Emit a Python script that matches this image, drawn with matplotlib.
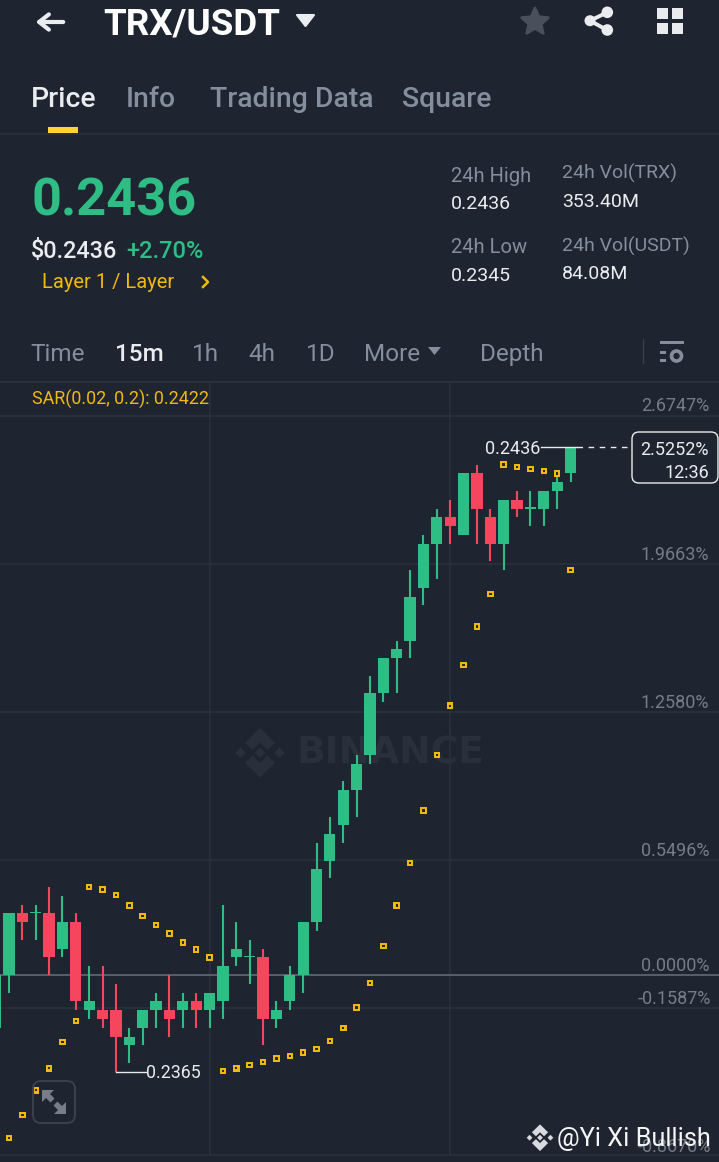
import numpy as np
import matplotlib
matplotlib.use("Agg")
import matplotlib.pyplot as plt
from matplotlib.patches import Rectangle, FancyBboxPatch, Polygon, Circle

W, H = 719, 1162
BG = "#1E2530"
GREEN = "#2EBD85"
RED = "#F6465D"
YEL = "#F0B90B"
GRID = "#2A313C"
GREY = "#848E9C"
DIM = "#767C88"
WHITE = "#EAECEF"
plt.rcParams["font.family"] = ["Roboto", "DejaVu Sans"]

# ---- data (prices) ----
candle_index = list(range(-1, 43))
opens = [0.2370,0.2376,0.2383,0.2383,0.2383,0.2379,0.2382,0.2372,0.2372,0.2372,0.2368,0.2370,0.2372,0.2372,0.2372,0.2373,0.2372,0.2373,0.2378,0.2378,0.2378,0.2371,0.2373,0.2376,0.2382,0.2389,0.2393,0.2397,0.2401,0.2408,0.2412,0.2414,0.2420,0.2425,0.2428,0.2426,0.2433,0.2428,0.2425,0.2430,0.2429,0.2429,0.2431,0.2433]
closes = [0.2376,0.2383,0.2382,0.2383,0.2378,0.2382,0.2373,0.2373,0.2371,0.2369,0.2369,0.2372,0.2373,0.2371,0.2373,0.2372,0.2374,0.2377,0.2379,0.2378,0.2371,0.2372,0.2376,0.2382,0.2388,0.2392,0.2397,0.2400,0.2408,0.2412,0.2413,0.2419,0.2425,0.2428,0.2427,0.2433,0.2429,0.2425,0.2430,0.2429,0.2429,0.2431,0.2432,0.2436]
highs = [0.2376,0.2383,0.2384,0.2384,0.2386,0.2385,0.2383,0.2377,0.2377,0.2375,0.2370,0.2372,0.2374,0.2376,0.2374,0.2374,0.2374,0.2384,0.2382,0.2380,0.2379,0.2373,0.2377,0.2382,0.2391,0.2394,0.2398,0.2401,0.2410,0.2412,0.2414,0.2422,0.2426,0.2429,0.2430,0.2433,0.2434,0.2429,0.2430,0.2431,0.2431,0.2431,0.2433,0.2436]
lows = [0.2370,0.2374,0.2380,0.2380,0.2376,0.2378,0.2372,0.2371,0.2370,0.2365,0.2366,0.2368,0.2370,0.2369,0.2370,0.2370,0.2370,0.2371,0.2377,0.2375,0.2368,0.2370,0.2372,0.2374,0.2381,0.2387,0.2391,0.2394,0.2400,0.2407,0.2408,0.2412,0.2418,0.2421,0.2425,0.2426,0.2425,0.2423,0.2422,0.2428,0.2427,0.2427,0.2429,0.2432]
sar_index = list(range(0, 43))
sar_values = [0.23575,0.23601,0.23629,0.23654,0.23684,0.23708,0.23860,0.23857,0.23851,0.23839,0.23827,0.23817,0.23807,0.23797,0.23789,0.23780,0.23651,0.23654,0.23658,0.23661,0.23665,0.23668,0.23672,0.23676,0.23685,0.23700,0.23723,0.23751,0.23793,0.23839,0.23887,0.23947,0.24010,0.24066,0.24112,0.24156,0.24193,0.24340,0.24337,0.24335,0.24333,0.24330,0.24220]
pct_labels = ["2.6747%", "1.9663%", "1.2580%", "0.5496%", "0.0000%", "-0.1587%", "-0.8670%"]
grid_prices = [0.24395, 0.24227, 0.24059, 0.23891, 0.23723, 0.23555]
tabs = ["Price", "Info", "Trading Data", "Square"]
intervals = ["Time", "15m", "1h", "4h", "1D", "More", "Depth"]
base_price = 0.2376

# ---- axes: scales chosen so price/index land on the reference pixels ----
PX0, DX = 9.0, 13.37
PY0, DY = 975.0, 88000.0
fig = plt.figure(figsize=(W / 100, H / 100), dpi=100, facecolor=BG)
back = fig.add_axes([0, 0, 1, 1], facecolor=BG, zorder=0)
back.set_xlim(0, W); back.set_ylim(H, 0); back.axis("off")
ax = fig.add_axes([0, 0, 1, 1], facecolor="none", zorder=1)
ax.set_xlim((0 - PX0) / DX, (W - PX0) / DX)
ax.set_ylim(base_price + (PY0 - H) / DY, base_price + PY0 / DY)
ax.axis("off")
ov = fig.add_axes([0, 0, 1, 1], facecolor="none", zorder=2)
ov.set_xlim(0, W); ov.set_ylim(H, 0); ov.axis("off")

def T(x, y, s, size, color, ha="left", weight="normal", va="center", **kw):
    return ov.text(x, y, s, fontsize=size, color=color, ha=ha, va=va, weight=weight, **kw)

def B(x, y, s, size, color, **kw):
    return T(x, y, s, size, color, va="baseline", **kw)

def binance_logo(axis, cx, cy, k, color, zorder=1):
    shapes = [
        [(0, -24.7), (15, -10), (7.5, -2.7), (0, -10), (-7.5, -2.7), (-15, -10)],
        [(0, 24.7), (15, 10), (7.5, 2.7), (0, 10), (-7.5, 2.7), (-15, 10)],
        [(0, -5.4), (5.3, 0), (0, 5.4), (-5.3, 0)],
        [(-19.3, -5.4), (-14, 0), (-19.3, 5.4), (-24.7, 0)],
        [(19.3, -5.4), (24.7, 0), (19.3, 5.4), (14, 0)],
    ]
    for s in shapes:
        axis.add_patch(Polygon([(cx + k * a, cy + k * b) for a, b in s], color=color, lw=0, zorder=zorder))

# grid
for p in grid_prices:
    ax.axhline(p, color=GRID, lw=1.2, zorder=1)
ax.axhline(base_price, color="#5A606B", lw=1.4, zorder=1.5)
for xv in [15, 33]:
    ax.plot([xv, xv], [base_price + (PY0 - 1155) / DY, base_price + (PY0 - 382) / DY], color=GRID, lw=1.2, zorder=1)
ov.plot([0, W], [382, 382], color=GRID, lw=1.5, zorder=1)
ov.plot([0, W], [133.5, 133.5], color=GRID, lw=1.2)

# watermark
wm = "#2A303B"
binance_logo(back, 260, 752.7, 1.0, wm)
back.text(296, 753, "BINANCE", fontsize=27, color=wm, weight="bold", family="DejaVu Sans", ha="left", va="center")

# candles
for i, o, c, h, l in zip(candle_index, opens, closes, highs, lows):
    col = GREEN if c >= o else RED
    ax.vlines(i, l, h, color=col, lw=1.5, zorder=3)
    b = max(abs(c - o), 0.000015)
    ax.add_patch(Rectangle((i - 0.42, min(o, c)), 0.84, b, facecolor=col, edgecolor="none", zorder=4))

# SAR
ax.scatter(sar_index, sar_values, marker="s", s=22, facecolor=YEL, edgecolor="none", zorder=5)
ax.scatter(sar_index, sar_values, marker="s", s=3, facecolor="#2A2A22", edgecolor="none", zorder=5.1)

# right axis labels
for lab, y, xr in zip(pct_labels, [406, 555, 703, 851, 966, 999, 1147], [709, 709, 709, 709, 709, 711, 711]):
    T(xr, y, lab, 13, DIM, ha="right", zorder=1 if lab.startswith("-0.8") else 6)

# current-price callout
ov.plot([541, 577], [447, 447], color=WHITE, lw=1, zorder=6)
ov.plot([577, 632], [447, 447], color=WHITE, lw=1, ls=(0, (4, 4)), zorder=6)
T(485, 449, "0.2436", 13, WHITE, zorder=6)
ov.add_patch(FancyBboxPatch((632, 432), 86, 51, boxstyle="round,pad=0,rounding_size=7", fc=BG, ec=WHITE, lw=1, zorder=6))
T(709, 450, "2.5252%", 13, WHITE, ha="right", zorder=7)
T(709, 473, "12:36", 13, WHITE, ha="right", zorder=7)

# low label
ov.plot([116, 146], [1071.5, 1071.5], color=WHITE, lw=1, zorder=6)
T(146, 1073, "0.2365", 12.8, WHITE, zorder=6)

# expand button
ov.add_patch(FancyBboxPatch((33, 1081), 42, 42, boxstyle="round,pad=0,rounding_size=8", fc="none", ec="#3A404B", lw=1.5, zorder=6))
arrow = [(42, 1090), (54, 1090), (50, 1094), (54.5, 1098.5), (50.5, 1102.5), (46, 1098), (42, 1102)]
ov.add_patch(Polygon(arrow, color="#777E8A", lw=0, zorder=7))
ov.add_patch(Polygon([(108 - a, 2204 - b) for a, b in arrow], color="#777E8A", lw=0, zorder=7))

# footer
binance_logo(ov, 540, 1137.7, 0.54, "#D8DADF", zorder=7)
T(557, 1139, "@Yi Xi Bullish", 18.2, "#F5F5F5", zorder=7)

# header
ov.annotate("", xy=(33, 22), xytext=(66, 22), arrowprops=dict(arrowstyle="->,head_width=0.55,head_length=0.7", color=WHITE, lw=3))
B(103, 34.3, "TRX/USDT", 26.5, "#FFFFFF", weight="bold")
ov.add_patch(Polygon([(297, 15), (314, 15), (305.5, 26)], color=WHITE, lw=1.5, joinstyle="round"))
star = [(535 + (14 if k % 2 == 0 else 6.5) * np.sin(k * np.pi / 5), 22 - (14 if k % 2 == 0 else 6.5) * np.cos(k * np.pi / 5)) for k in range(10)]
ov.add_patch(Polygon(star, color="#4A505B", lw=2, joinstyle="round"))
ov.plot([607, 590, 607], [12.5, 20.7, 30], color=WHITE, lw=2.8)
for (cx, cy, r) in [(590, 20.7, 5.5), (607.3, 12.3, 5.8), (607.3, 30, 5.8)]:
    ov.add_patch(Circle((cx, cy), r, color=WHITE, lw=0))
for (x0, y0, w, h_) in [(656.7, 8, 11, 11.3), (672, 8, 11.3, 11.3), (656.7, 22.7, 11, 11.5), (672, 22.7, 11.3, 11.5)]:
    ov.add_patch(Rectangle((x0, y0), w, h_, color="#E9EBEF", lw=0))

# tabs
for s, x, col in zip(tabs, [31, 126, 210, 402], [WHITE, GREY, GREY, GREY]):
    B(x, 106.7, s, 20.4, col, weight="medium")
ov.add_patch(Rectangle((48, 127), 30, 6, color="#FCD535", lw=0))

# price block
B(31, 215, "0.2436", 37.6, GREEN, weight="bold")
B(31, 258.3, "$0.2436", 16.8, WHITE, weight="medium")
B(126, 258.3, "+2.70%", 17, GREEN, weight="medium")
B(42, 288.3, "Layer 1 / Layer", 14.5, YEL)
ov.plot([203, 208, 203], [277, 282, 287], color=YEL, lw=1.8)
B(451, 181.5, "24h High", 14.5, GREY)
B(451, 209, "0.2436", 14, WHITE)
B(562, 179, "24h Vol(TRX)", 14, GREY)
B(562, 206.7, "353.40M", 14, WHITE)
B(451, 253.3, "24h Low", 14.5, GREY)
B(451, 281, "0.2345", 14, WHITE)
B(562, 251.7, "24h Vol(USDT)", 14, GREY)
B(562, 279, "84.08M", 14, WHITE)

# interval row
for s, x, col, wt in zip(intervals, [30, 115, 192, 248, 306, 364, 480],
                         [GREY, WHITE, GREY, GREY, GREY, GREY, GREY],
                         ["normal", "medium", "normal", "normal", "normal", "normal", "normal"]):
    B(x, 361, s, 17.5, col, weight=wt)
ov.add_patch(Polygon([(428, 347), (441, 347), (434.5, 355)], color=GREY, lw=0))
ov.plot([643, 643], [339, 363], color="#3A404B", lw=1)
ov.add_patch(Rectangle((660, 340.5), 24, 3, color=GREY, lw=0))
ov.add_patch(Rectangle((660, 350.5), 6, 3, color=GREY, lw=0))
ov.add_patch(Rectangle((660, 358.5), 6, 3, color=GREY, lw=0))
ov.add_patch(Circle((676.5, 356), 5, fc="none", ec=GREY, lw=2.6))

# SAR legend
B(32, 404.3, "SAR(0.02, 0.2): 0.2422", 12.9, YEL, zorder=7)

fig.savefig("out.png", dpi=100, facecolor=BG)
